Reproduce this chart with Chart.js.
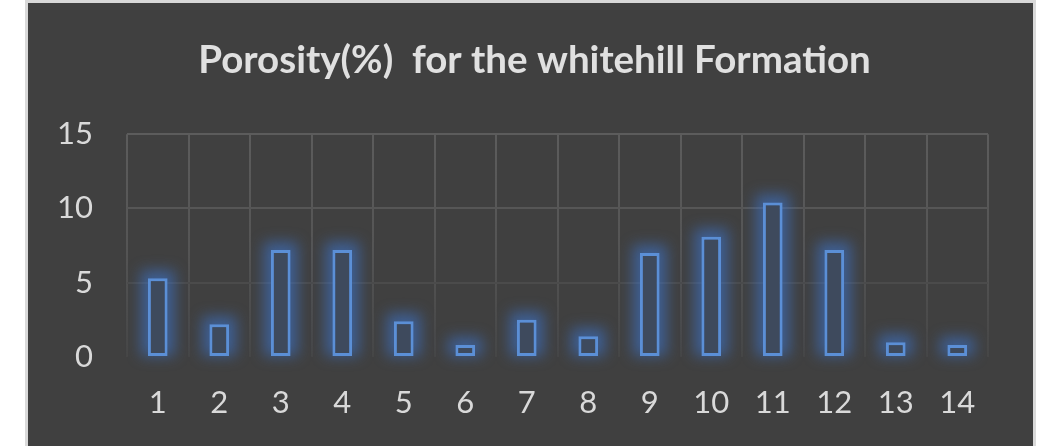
<!DOCTYPE html>
<html>
<head>
<meta charset="utf-8">
<script src="https://cdn.jsdelivr.net/npm/chart.js@4"></script>
<style>
  html, body { margin: 0; padding: 0; background: #ffffff; width: 1041px; height: 446px; overflow: hidden; }
  #panel { position: absolute; left: 25px; top: 0px; width: 1005px; height: 446px;
           border: 3px solid #d9d9d9; border-bottom: none; background: #404040; }
  #wrap { position: absolute; left: 0; top: 0; width: 1005px; height: 443px; }
</style>
</head>
<body>
<div id="panel"><div id="wrap"><canvas id="c"></canvas></div></div>
<script>
const categories = ["1","2","3","4","5","6","7","8","9","10","11","12","13","14"];
const porosity = [5.3, 2.2, 7.2, 7.2, 2.4, 0.8, 2.5, 1.4, 7.0, 8.1, 10.4, 7.2, 1.0, 0.8];
const yTicks = [0, 5, 10, 15];
const chartTitle = "Porosity(%)  for the whitehill Formation";

// soft blue glow behind each bar, positioned from the library's own bar elements
const glow = {
  id: 'glow',
  beforeDatasetsDraw(chart) {
    const ctx = chart.ctx;
    const meta = chart.getDatasetMeta(0);
    ctx.save();
    ctx.filter = 'blur(7px)';
    ctx.fillStyle = 'rgba(60,120,215,0.55)';
    meta.data.forEach(b => {
      const p = b.getProps(['x', 'y', 'base', 'width'], true);
      const left = p.x - p.width / 2 - 7;
      const top = Math.min(p.y, p.base) - 8;
      ctx.fillRect(left, top, p.width + 14, Math.abs(p.base - p.y) + 8);
    });
    ctx.restore();
  }
};

function xGridColor(ctx) {
  const chart = ctx.chart;
  const a = chart.chartArea;
  if (!a) return '#5a5a5a';
  const g = chart.ctx.createLinearGradient(0, a.top, 0, a.bottom);
  g.addColorStop(0, '#5c5c5c');
  g.addColorStop(0.5, '#555555');
  g.addColorStop(1, '#464646');
  return g;
}

new Chart(document.getElementById('c'), {
  type: 'bar',
  data: {
    labels: categories,
    datasets: [{
      data: porosity,
      yAxisID: 'y',
      backgroundColor: '#3e4a5d',
      borderColor: '#5b8fd6',
      borderWidth: 3,
      borderSkipped: false,
      barPercentage: 0.32,
      categoryPercentage: 1.0
    }]
  },
  plugins: [glow],
  options: {
    responsive: true,
    maintainAspectRatio: false,
    animation: false,
    layout: { padding: { left: 8, right: 0, top: 0, bottom: 0 } },
    plugins: {
      legend: { display: false },
      tooltip: { enabled: false },
      title: {
        display: true,
        text: chartTitle,
        color: '#e0e0e0',
        font: { family: 'Lato', size: 38.5, weight: 'bold' },
        padding: { top: 34, bottom: 51 }
      }
    },
    scales: {
      x: {
        grid: { color: xGridColor, lineWidth: 2, drawTicks: false, offset: true },
        border: { display: false },
        ticks: { color: '#d9d9d9', font: { family: 'Lato', size: 31 }, padding: 27, maxRotation: 0 },
        afterFit(s) { s.height = 89; }
      },
      y: {
        position: 'left',
        min: 0, max: 15,
        afterBuildTicks(s) { s.ticks = yTicks.map(v => ({ value: v })); },
        grid: {
          drawTicks: false,
          lineWidth: 2,
          color: (c) => {
            const v = c.tick ? c.tick.value : 0;
            if (v >= 15) return '#5c5c5c';
            if (v >= 10) return '#565656';
            if (v >= 5) return '#4b4b4b';
            return 'rgba(0,0,0,0)';
          }
        },
        border: { display: false },
        ticks: { color: '#d9d9d9', font: { family: 'Lato', size: 31 }, padding: 34 },
        afterFit(s) { s.width = 91; }
      },
      yRight: {
        position: 'right',
        display: true,
        grid: { display: false, drawTicks: false },
        border: { display: false },
        ticks: { display: false },
        afterFit(s) { s.width = 45; }
      }
    }
  }
});
</script>
</body>
</html>
